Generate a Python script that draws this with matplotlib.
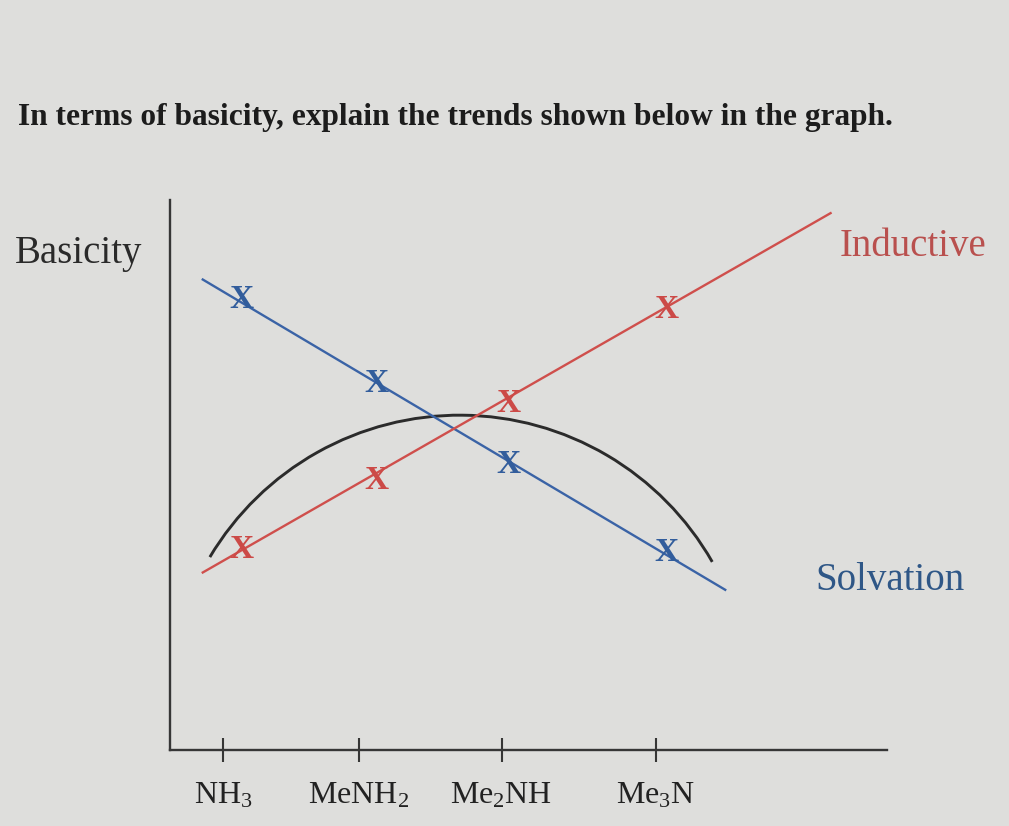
import matplotlib.pyplot as plt
from matplotlib.patches import Arc

plt.rcParams['font.family'] = ['Liberation Serif', 'DejaVu Serif']
plt.rcParams['mathtext.fontset'] = 'custom'
plt.rcParams['mathtext.rm'] = 'Liberation Serif'
plt.rcParams['mathtext.it'] = 'Liberation Serif:italic'

# amines along the x axis (tick positions in category units)
amines = [r'NH$_3$', r'MeNH$_2$', r'Me$_2$NH', r'Me$_3$N']
tick_x = [0.0, 0.94, 1.93, 3.0]

# the "X" points (basicity, arbitrary units)
point_x = [0.13, 1.06, 1.98, 3.07]
solvation_y = [3.12, 2.54, 1.98, 1.37]
inductive_y = [1.39, 1.87, 2.40, 3.05]

# trend lines, end to end
solvation_line_x = [-0.14, 3.48]
solvation_line_y = [3.26, 1.11]
inductive_line_x = [-0.14, 4.21]
inductive_line_y = [1.23, 3.72]

# overall basicity arc (centre, diameter, start/end angle)
arc_centre = (1.64, 0.305)
arc_diameter = 4.03
arc_angles = (29.7, 149.2)

paper = '#dededc'
red = '#cf4f4c'
blue = '#3a63a6'
ink = '#2b2b2b'

fig = plt.figure(figsize=(10.09, 8.26), dpi=100, facecolor=paper)
ax = fig.add_axes([170 / 1009, 76 / 826, 717 / 1009, 550 / 826])
ax.set_facecolor(paper)
ax.set_xlim(-0.367, 4.601)
ax.set_ylim(0, 3.811)

ax.plot(solvation_line_x, solvation_line_y, color=blue, lw=1.7)
ax.plot(inductive_line_x, inductive_line_y, color=red, lw=1.7)
ax.add_patch(Arc(arc_centre, arc_diameter, arc_diameter,
                 theta1=arc_angles[0], theta2=arc_angles[1],
                 color=ink, lw=2.1))

for x, y in zip(point_x, solvation_y):
    ax.text(x, y, 'X', color='#325d9c', fontsize=24, fontweight='bold',
            ha='center', va='center')
for x, y in zip(point_x, inductive_y):
    ax.text(x, y, 'X', color='#cc4a47', fontsize=24, fontweight='bold',
            ha='center', va='center')

for side in ['top', 'right']:
    ax.spines[side].set_visible(False)
for side in ['left', 'bottom']:
    ax.spines[side].set_color('#363636')
    ax.spines[side].set_linewidth(1.7)

ax.set_yticks([])
ax.set_xticks(tick_x, amines)
ax.tick_params(axis='x', direction='inout', length=17, width=1.5,
               color='#363636', labelsize=23, labelcolor='#222222', pad=14)

fig.text(18 / 1009, 1 - 117 / 826,
         'In terms of basicity, explain the trends shown below in the graph.',
         fontsize=22.6, fontweight='bold', color='#1c1c1c', va='center')
fig.text(15 / 1009, 1 - 254 / 826, 'Basicity', fontsize=28,
         color='#2a2a2a', va='center')
fig.text(840 / 1009, 1 - 246 / 826, 'Inductive', fontsize=28,
         color='#b9504e', va='center')
fig.text(815 / 1009, 1 - 580 / 826, 'Solvation', fontsize=28,
         color='#2f5787', va='center')

fig.savefig('out.png', dpi=100, facecolor=paper)
